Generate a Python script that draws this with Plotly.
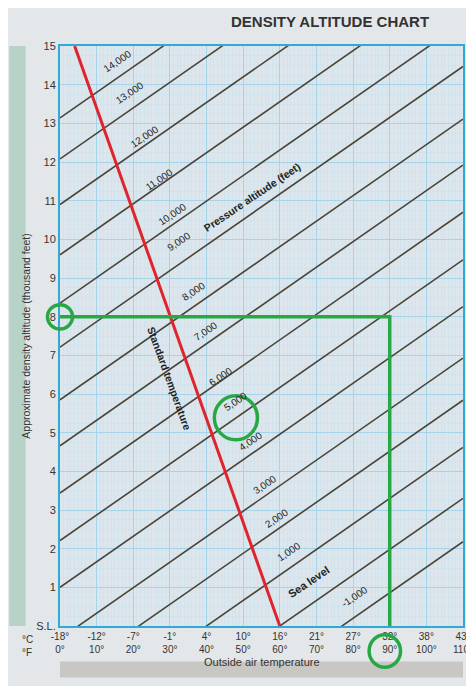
"""
Density altitude chart.
"""

import plotly.graph_objects as go

TEMPS_F = [0, 10, 20, 30, 40, 50, 60, 70, 80, 90, 100, 110]
TEMPS_C = ["-18°", "-12°", "-7°", "-1°", "4°", "10°", "16°", "21°", "27°", "32°", "38°", "43°"]
ALT_TICKS = list(range(0, 16))
ALT_LABELS = ["S.L."] + [str(v) for v in range(1, 16)]

# pressure altitude lines: density altitude (thousand ft) read at 0°F and 110°F
PRESSURE_ALTS = ["14,000", "13,000", "12,000", "11,000", "10,000", "9,000", "8,000",
                 "7,000", "6,000", "5,000", "4,000", "3,000", "2,000", "1,000",
                 "Sea level", "-1,000"]
DA_AT_0F = [13.14, 12.08, 10.9, 9.6, 8.35, 7.21, 5.85, 4.66, 3.44, 2.21, 1.0,
            -0.33, -1.42, -2.64, -3.96, -5.08]
DA_AT_110F = [20.4, 19.34, 18.16, 16.86, 15.61, 14.47, 13.11, 11.92, 10.7, 9.47, 8.26,
              6.93, 5.84, 4.62, 3.3, 2.18]

# standard temperature line (°F, thousand ft)
STD_T = [4, 60]
STD_DA = [15, 0]

# example: 90°F -> 8,000 ft density altitude
EX_T = [0, 90, 90]
EX_DA = [8, 8, 0]

# label positions (°F, thousand ft)
LABEL_T = [14.6, 18.1, 22.1, 26.1, 29.6, 31.4, 35.4, 38.6, 42.9, 46.9, 50.9, 54.9,
           58.0, 61.5, 66.8, 79.4]
LABEL_DA = [14.3, 13.5, 12.36, 11.25, 10.34, 9.65, 8.35, 7.32, 6.15, 5.5, 4.47, 3.36,
            2.48, 1.63, 0.85, 0.47]


def main():
    """main program"""
    fig = go.Figure()

    for lo, hi in zip(DA_AT_0F, DA_AT_110F):
        fig.add_trace(go.Scatter(x=[0, 110], y=[lo, hi], mode="lines",
                                 line=dict(color="#4a4438", width=1.6),
                                 hoverinfo="skip", showlegend=False))

    fig.add_trace(go.Scatter(x=STD_T, y=STD_DA, mode="lines",
                             line=dict(color="#e0242b", width=3), showlegend=False))
    fig.add_trace(go.Scatter(x=EX_T, y=EX_DA, mode="lines",
                             line=dict(color="#27a844", width=3.5), showlegend=False))

    for name, tx, ty in zip(PRESSURE_ALTS, LABEL_T, LABEL_DA):
        bold = name == "Sea level"
        fig.add_annotation(x=tx + 1, y=ty + 0.3, text=f"<b>{name}</b>" if bold else name,
                           showarrow=False, textangle=-34,
                           font=dict(size=11 if bold else 10, color="#222"))
    fig.add_annotation(x=52.4, y=11.1, text="<b>Pressure altitude (feet)</b>",
                       showarrow=False, textangle=-34, font=dict(size=10.5, color="#222"))
    fig.add_annotation(x=30, y=6.4, text="<b>Standard temperature</b>",
                       showarrow=False, textangle=70, font=dict(size=10.5, color="#222"))

    circle = dict(type="circle", xref="paper", yref="paper",
                  line=dict(color="#27a844", width=3.5))
    fig.add_shape(x0=-0.031, x1=0.031, y0=0.512, y1=0.554, **circle)
    fig.add_shape(x0=0.383, x1=0.49, y0=0.321, y1=0.397, **circle)
    fig.add_shape(x0=0.767, x1=0.845, y0=-0.071, y1=-0.015, **circle)

    # side and bottom bands
    fig.add_shape(type="rect", xref="paper", yref="paper", x0=-0.126, x1=-0.085,
                  y0=0, y1=1, fillcolor="#b7d2c7", line_width=0, layer="below")
    fig.add_annotation(xref="paper", yref="paper", x=-0.105, y=0.5,
                       text="Approximate density altitude (thousand feet)",
                       textangle=-90, showarrow=False, font=dict(size=10.5, color="#333"))
    fig.add_shape(type="rect", xref="paper", yref="paper", x0=0, x1=1,
                  y0=-0.089, y1=-0.061, fillcolor="#c9c7c4", line_width=0, layer="below")
    fig.add_annotation(xref="paper", yref="paper", x=0.5, y=-0.075,
                       text="Outside air temperature", showarrow=False,
                       font=dict(size=11, color="#333"))
    fig.add_annotation(xref="paper", yref="paper", x=-0.1, y=-0.011, xanchor="left",
                       yanchor="top", text="°C<br>°F", showarrow=False, align="left",
                       font=dict(size=10, color="#333"))

    fig.add_annotation(xref="paper", yref="paper", x=0.92, y=1.06, xanchor="right",
                       text="<b>DENSITY ALTITUDE CHART</b>", showarrow=False,
                       font=dict(size=15, color="#333"))

    fig.update_xaxes(range=[0, 110], tickvals=TEMPS_F,
                     ticktext=[f"{c}<br>{f}°" for c, f in zip(TEMPS_C, TEMPS_F)],
                     showgrid=True, gridcolor="#a6d3e8", gridwidth=1, dtick=5,
                     minor=dict(dtick=1, showgrid=True, gridcolor="#d2e3ec"),
                     showline=True, linecolor="#2fa9d6", linewidth=2, mirror=True,
                     zeroline=False, tickfont=dict(size=10, color="#333"), ticks="")
    fig.update_yaxes(range=[0, 15], tickvals=ALT_TICKS, ticktext=ALT_LABELS,
                     showgrid=True, gridcolor="#a6d3e8", gridwidth=1,
                     minor=dict(dtick=0.25, showgrid=True, gridcolor="#d2e3ec"),
                     showline=True, linecolor="#2fa9d6", linewidth=2, mirror=True,
                     zeroline=False, tickfont=dict(size=11, color="#333"), ticks="")

    fig.update_layout(width=474, height=686, margin=dict(l=52, r=9, t=38, b=68),
                      paper_bgcolor="#e4e7ea", plot_bgcolor="#dde6ec",
                      font=dict(family="Liberation Sans, Arial"))

    fig.write_html("out.html")


if __name__ == "__main__":
    main()
